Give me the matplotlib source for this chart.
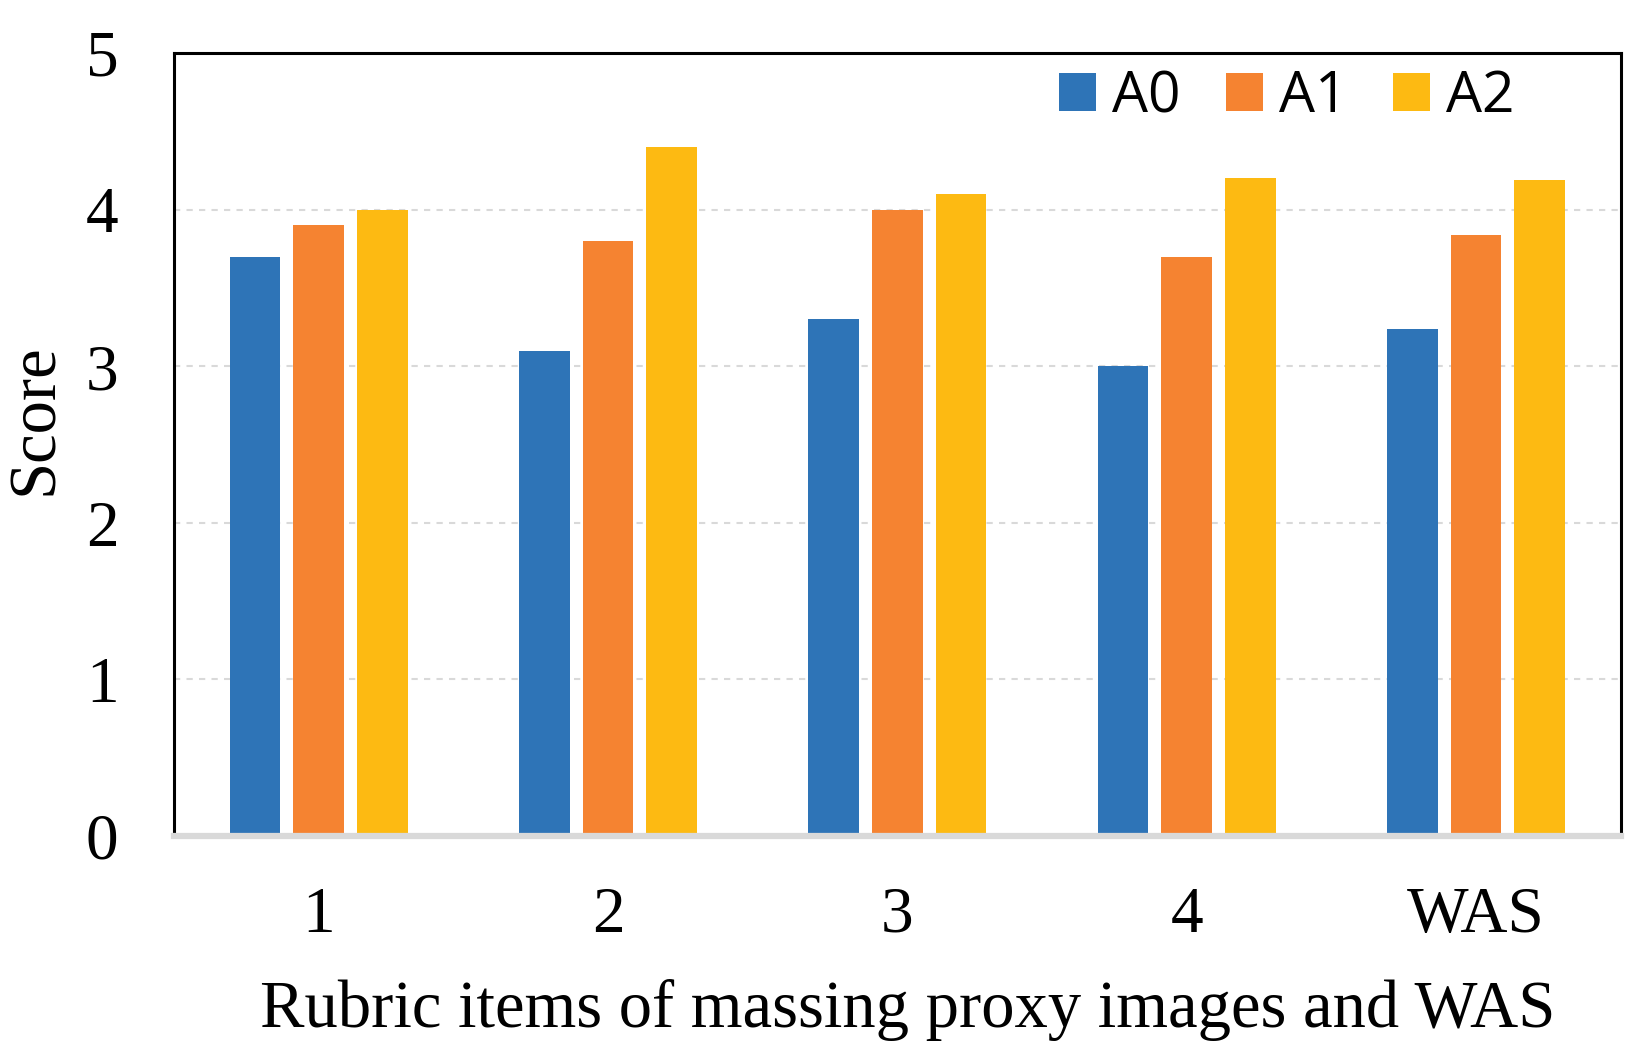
import numpy as np
import matplotlib
matplotlib.use("Agg")
import matplotlib.pyplot as plt

# ── 0. Data ───────────────────────────────────────────────────────────────────
categories = ["1", "2", "3", "4", "WAS"]
series_names = ["A0", "A1", "A2"]
a0_scores = [3.7, 3.1, 3.3, 3.0, 3.24]
a1_scores = [3.9, 3.8, 4.0, 3.7, 3.84]
a2_scores = [4.0, 4.4, 4.1, 4.2, 4.19]
y_ticks = [0, 1, 2, 3, 4, 5]

colors = ["#2E74B7", "#F58331", "#FDBA12"]

# ── 1. Figure ─────────────────────────────────────────────────────────────────
fig = plt.figure(figsize=(16.52, 10.62), dpi=100)
ax = fig.add_axes([0.1053, 0.2128, 0.8757, 0.7372])

x = np.arange(len(categories))
width, step = 0.175, 0.22
for i, (name, vals) in enumerate(zip(series_names, [a0_scores, a1_scores, a2_scores])):
    ax.bar(x + (i - 1) * step, vals, width=width, color=colors[i], label=name, zorder=3)

ax.set_xlim(-0.5, len(categories) - 0.5)
ax.set_ylim(0, 5)
ax.set_yticks(y_ticks)
ax.set_xticks(x)

serif = "Liberation Serif"
ax.set_yticklabels([str(t) for t in y_ticks], fontsize=47, family=serif)
ax.set_xticklabels(categories, fontsize=47, family=serif)
ax.tick_params(axis="y", length=0, pad=40)
ax.tick_params(axis="x", length=0, pad=36)

# dashed grid at 1..4, none at top
for t in y_ticks[1:-1]:
    ax.axhline(t, color="#D9D9D9", linewidth=1.5, linestyle=(0, (3, 3)), zorder=1)

for side in ["left", "top", "right"]:
    ax.spines[side].set_color("black")
    ax.spines[side].set_linewidth(2.2)
ax.spines["bottom"].set_color("#D9D9D9")
ax.spines["bottom"].set_linewidth(4.5)
ax.spines["bottom"].set_zorder(4)

ax.set_xlabel("Rubric items of massing proxy images and WAS", fontsize=48, family=serif, labelpad=24)
ax.xaxis.label.set_x(0.507)
ax.set_ylabel("Score", fontsize=48, family=serif, va="center")
ax.yaxis.set_label_coords(-0.096, 0.533)

fig.legend(loc="center left", bbox_to_anchor=(0.641, 0.908), ncol=3, frameon=False,
           prop={"family": "Open Sans", "size": 41},
           handlelength=0.65, handleheight=0.65, handletextpad=0.28,
           columnspacing=0.8, borderpad=0, borderaxespad=0)

fig.savefig("out.png", dpi=100)
